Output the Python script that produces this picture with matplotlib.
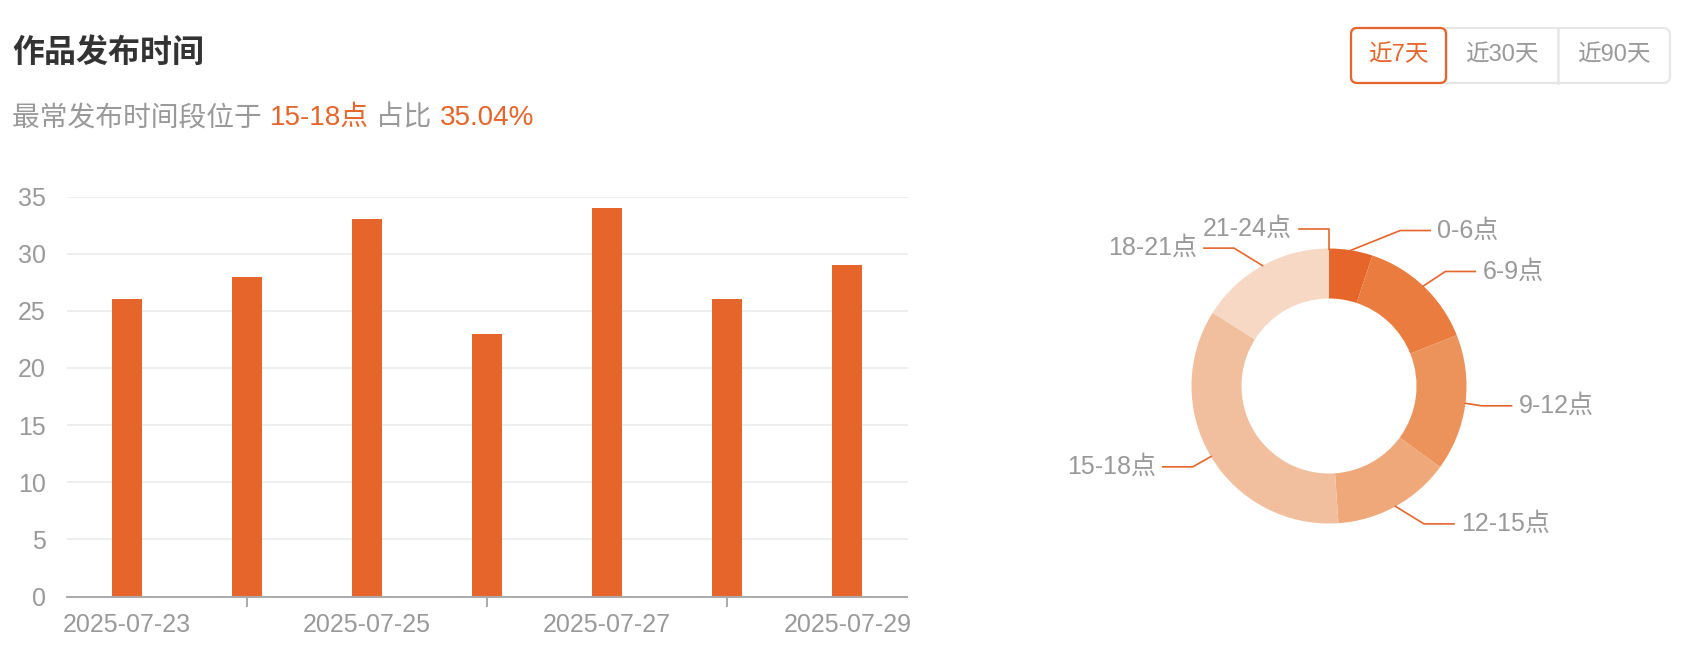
import numpy as np
import matplotlib
matplotlib.use('Agg')
import matplotlib.pyplot as plt
from matplotlib.patches import FancyBboxPatch

plt.rcParams['font.family'] = ['Liberation Sans', 'Noto Sans CJK SC']

# 每日作品数 (近7天)
dates = ['2025-07-23', '2025-07-24', '2025-07-25', '2025-07-26',
         '2025-07-27', '2025-07-28', '2025-07-29']
counts = [26, 28, 33, 23, 34, 26, 29]

# 发布时间段分布
slots = ['0-6点', '6-9点', '9-12点', '12-15点', '15-18点', '18-21点', '21-24点']
slot_counts = [7, 19, 22, 19, 48, 22, 0]
slot_colors = ['#e5652b', '#e97c3e', '#ec935c', '#efa87a', '#f2bf9e', '#f6d8c4', '#f9e8dd']

top_slot = '15-18点'
top_share = '35.04%'
ranges = ['近7天', '近30天', '近90天']

W, H = 1684, 648
ORANGE = '#e5652b'
GRAY = '#999999'

fig = plt.figure(figsize=(W / 100, H / 100), dpi=100)

# 整张图的像素坐标层 (标题、按钮)
over = fig.add_axes([0, 0, 1, 1])
over.set_xlim(0, W)
over.set_ylim(H, 0)
over.axis('off')

over.text(12, 53.5, '作品发布时间', fontsize=23, fontweight='bold',
          color='#333333', va='center', ha='left')

parts = [('最常发布时间段位于 ', GRAY), (top_slot, ORANGE), (' 占比 ', GRAY), (top_share, ORANGE)]
prev = over.text(12, 125, parts[0][0], fontsize=20, color=parts[0][1], va='baseline', ha='left')
for s, c in parts[1:]:
    prev = over.annotate(s, xy=(1, 0), xycoords=prev, fontsize=20, color=c,
                         va='bottom', ha='left')

# 时间范围按钮
edges = [1351, 1446, 1558, 1670]
btn_top, btn_bot = 28, 83
over.add_patch(FancyBboxPatch((edges[0], btn_top), edges[-1] - edges[0], btn_bot - btn_top,
                              boxstyle='round,pad=0,rounding_size=7', fc='white',
                              ec='#e6e6e6', lw=1.5))
for e in edges[1:-1]:
    over.plot([e, e], [btn_top, btn_bot], color='#e6e6e6', lw=1.8)
over.add_patch(FancyBboxPatch((edges[0], btn_top), edges[1] - edges[0], btn_bot - btn_top,
                              boxstyle='round,pad=0,rounding_size=6', fc='none',
                              ec=ORANGE, lw=1.6, zorder=5))
for i, r in enumerate(ranges):
    over.text((edges[i] + edges[i + 1]) / 2, (btn_top + btn_bot) / 2, r, fontsize=17,
              color=ORANGE if i == 0 else GRAY, ha='center', va='center')

# 柱状图
ax = fig.add_axes([66.6 / W, 1 - 596.5 / H, (907.5 - 66.6) / W, 400 / H])
x = np.arange(len(dates))
ax.bar(x, counts, width=0.25, color=ORANGE, zorder=3)
ax.set_xlim(-0.5, len(dates) - 0.5)
ax.set_ylim(0, 35)
ax.set_yticks(range(0, 36, 5))
ax.grid(axis='y', color='#eeeeee', lw=1.4, zorder=0)
for s in ['top', 'right', 'left']:
    ax.spines[s].set_visible(False)
ax.spines['bottom'].set_color('#aaaaaa')
ax.spines['bottom'].set_linewidth(1.4)
ax.spines['bottom'].set_zorder(4)
ax.set_xticks(x[::2])
ax.set_xticklabels(dates[::2])
ax.set_xticks(x[1::2], minor=True)
ax.tick_params(axis='x', which='major', length=0, pad=12, labelsize=18, labelcolor=GRAY)
ax.tick_params(axis='x', which='minor', length=7, width=1.4, color='#aaaaaa')
ax.tick_params(axis='y', length=0, pad=15, labelsize=18, labelcolor=GRAY)

# 环形图
cx, cy, R, ring = 1329, 386, 137.5, 50
half = 220
dax = fig.add_axes([(cx - half) / W, 1 - (cy + half) / H, 2 * half / W, 2 * half / H])
dax.pie(slot_counts, radius=R, startangle=90, counterclock=False, colors=slot_colors,
        wedgeprops=dict(width=ring, linewidth=0))
dax.set_xlim(-half, half)
dax.set_ylim(-half, half)
dax.axis('off')

# 引导线: 拐点的 y 取中线方向, x 落在椭圆上 (类似 echarts 的标签排布)
ry, ra, rb = R + 20, R + 16, R + 38
total = sum(slot_counts)
start = 90.0
for name, c in zip(slots, slot_counts):
    sweep = c / total * 360
    mid = np.deg2rad(start - sweep / 2)
    start -= sweep
    dx, dy = np.cos(mid), np.sin(mid)
    side = 1 if dx > 1e-9 else -1
    x0, y0 = R * dx, R * dy
    y1 = ry * dy
    if c == 0:
        x1 = ry * dx
    else:
        x1 = side * ra * np.sqrt(max(0.0, 1 - (y1 / rb) ** 2))
    x2 = x1 + side * 30
    dax.plot([x0, x1, x2], [y0, y1, y1], color=ORANGE, lw=1.2, clip_on=False)
    dax.text(x2 + side * 7, y1, name, fontsize=18, color=GRAY, va='center',
             ha='left' if side > 0 else 'right', clip_on=False)

fig.savefig('out.png', dpi=100)
